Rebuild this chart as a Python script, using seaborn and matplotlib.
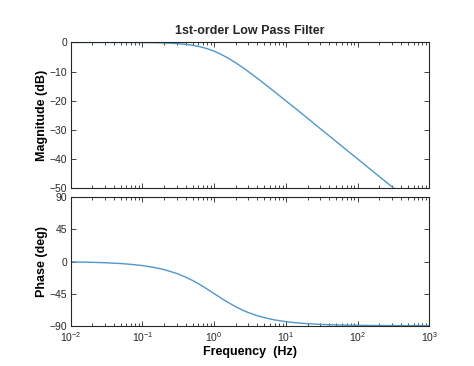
import matplotlib
matplotlib.use("Agg")
import matplotlib.pyplot as plt
import seaborn as sns
import pandas as pd

# Bode data (cutoff near 1 Hz)
freq_hz = [0.01, 0.02, 0.03, 0.05, 0.07, 0.1, 0.15, 0.2, 0.3, 0.4, 0.5, 0.6, 0.7, 0.8,
           1.0, 1.2, 1.5, 2.0, 2.5, 3.0, 4.0, 5.0, 7.0, 10.0, 15.0, 20.0, 30.0, 50.0,
           100.0, 200.0, 300.0, 500.0, 1000.0]
magnitude_db = [0.0, -0.002, -0.004, -0.011, -0.021, -0.043, -0.10, -0.17, -0.37, -0.64,
                -0.97, -1.34, -1.73, -2.15, -3.01, -3.87, -5.12, -6.99, -8.60, -10.0,
                -12.3, -14.15, -17.0, -20.04, -23.5, -26.0, -29.55, -33.98, -40.0,
                -46.02, -49.54, -53.98, -60.0]
phase_deg = [-0.57, -1.15, -1.72, -2.86, -4.0, -5.71, -8.53, -11.3, -16.7, -21.8, -26.6,
             -31.0, -35.0, -38.7, -45.0, -50.2, -56.3, -63.4, -68.2, -71.6, -76.0, -78.7,
             -81.9, -84.3, -86.2, -87.1, -88.1, -88.9, -89.4, -89.7, -89.8, -89.9, -89.95]

df = pd.DataFrame({"freq": freq_hz, "mag": magnitude_db, "phase": phase_deg})

sns.set_style("ticks")
plt.rcParams["font.family"] = ["Liberation Sans", "DejaVu Sans"]
plt.rcParams["mathtext.default"] = "regular"

line_color = "#4f97cc"
txt_color = "#262626"

fig = plt.figure(figsize=(4.74, 3.66), dpi=100)
ax1 = fig.add_axes([0.149, 0.486, 0.757, 0.398])
ax2 = fig.add_axes([0.149, 0.110, 0.757, 0.351])

sns.lineplot(data=df, x="freq", y="mag", ax=ax1, color=line_color, linewidth=1.0)
sns.lineplot(data=df, x="freq", y="phase", ax=ax2, color=line_color, linewidth=1.0)

for ax in (ax1, ax2):
    ax.set_xscale("log")
    ax.set_xlim(1e-2, 1e3)
    ax.tick_params(which="both", direction="in", top=True, right=True,
                   labelsize=7.5, colors=txt_color, width=0.6)
    ax.tick_params(which="major", length=3.5, pad=2.5)
    ax.tick_params(which="minor", length=2)
    ax.tick_params(axis="x", which="major", pad=3.5)
    for s in ax.spines.values():
        s.set_linewidth(0.8)
        s.set_color(txt_color)
    ax.set_xlabel("")

ax1.set_ylim(-50, 0)
ax1.set_yticks([0, -10, -20, -30, -40, -50])
ax1.tick_params(labelbottom=False)
ax1.set_ylabel("Magnitude (dB)", fontsize=9, fontweight="bold", color="black")
ax1.yaxis.set_label_coords(-0.064, 0.5)
ax1.set_title("1st-order Low Pass Filter", fontsize=9, fontweight="bold", pad=6)

ax2.set_ylim(-90, 90)
ax2.set_yticks([-90, -45, 0, 45, 90])
ax2.set_ylabel("Phase (deg)", fontsize=9, fontweight="bold", color="black")
ax2.yaxis.set_label_coords(-0.064, 0.5)
ax2.set_xlabel("Frequency  (Hz)", fontsize=9, fontweight="bold", color="black", labelpad=1)

fig.savefig("out.png", dpi=100)
